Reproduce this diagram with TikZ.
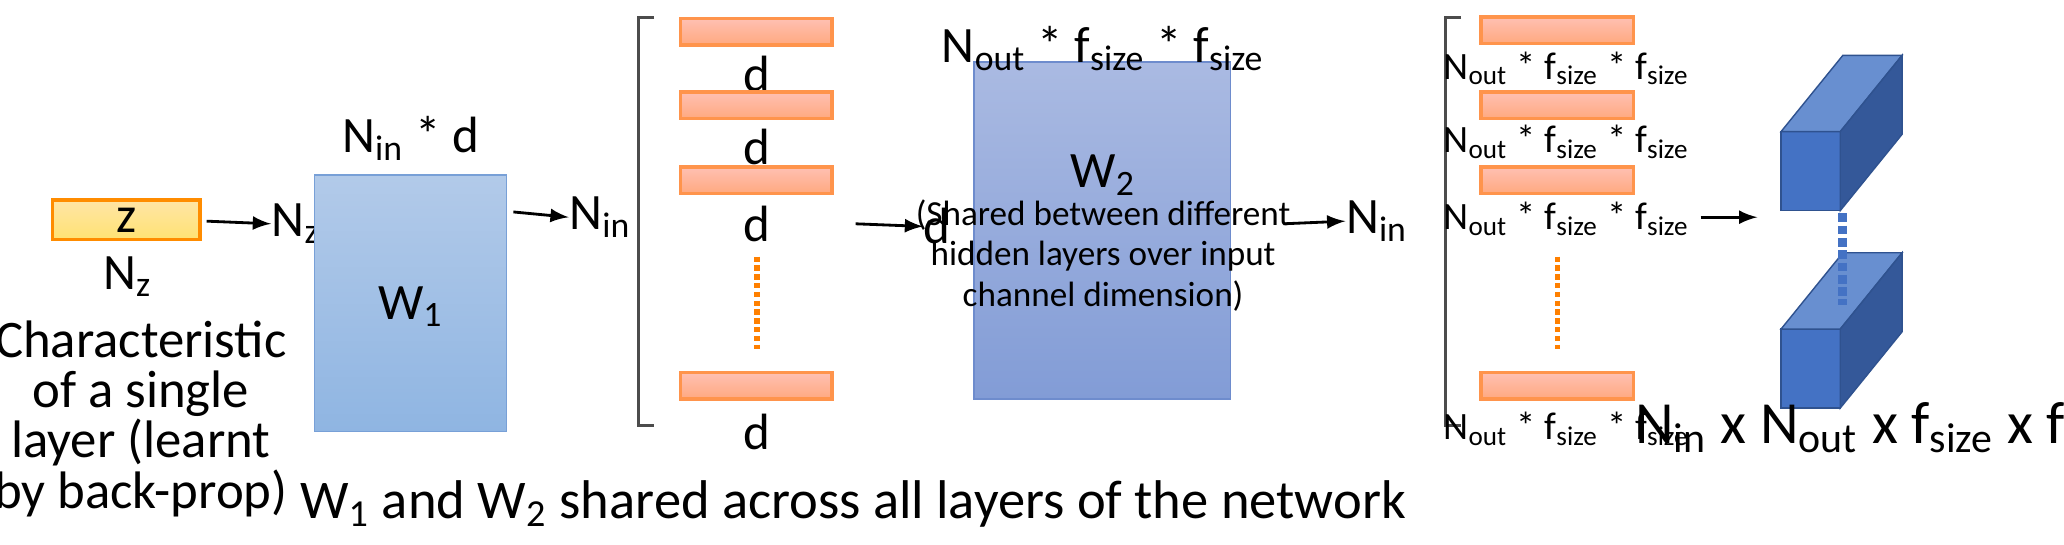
\documentclass[tikz,border=0pt]{standalone}
\usepackage{fontspec}
\setmainfont{Carlito}
\definecolor{cfront}{RGB}{68,114,196}
\definecolor{ctop}{RGB}{104,143,208}
\definecolor{cside}{RGB}{52,88,153}
\definecolor{cedge}{RGB}{47,82,143}
\definecolor{wonet}{RGB}{178,202,233}
\definecolor{woneb}{RGB}{143,181,226}
\definecolor{wonee}{RGB}{120,160,215}
\definecolor{wtwot}{RGB}{170,186,226}
\definecolor{wtwob}{RGB}{130,156,214}
\definecolor{wtwoe}{RGB}{110,140,205}
\begin{document}
\begin{tikzpicture}[x=0.01316cm,y=-0.01316cm,
  txt/.style={inner sep=0pt,font=\fontsize{14.5pt}{17pt}\selectfont},
  sm/.style={inner sep=0pt,font=\fontsize{11pt}{13pt}\selectfont},
  arr/.style={-latex,thick},
  bar/.style={draw=orange!80!red!70,line width=1pt,top color=orange!35!red!30!white,bottom color=orange!65!red!50!white},
  brk/.style={draw=black!70,line width=0.8pt}]
\useasboundingbox (0,0) rectangle (1568,414);
% z
\filldraw[draw=orange!90!yellow,line width=1pt,top color=yellow!40!orange!35,bottom color=yellow!60!orange!55] (40,152) rectangle (152,182);
\node[txt] (z) at (96,167) {z};
\node[txt] (nz0) at (97,210) {N\textsubscript{z}};
\node[txt,align=center,font=\fontsize{15pt}{14.3pt}\selectfont] (char) at (107,318) {Characteristic\\of a single\\layer (learnt\\by back-prop)};
\node[txt] (nz) at (225,170) {N\textsubscript{z}};
\draw[arr] (157,168) -- (nz.west);
% W1
\filldraw[draw=wonee,top color=wonet,bottom color=woneb] (239,133) rectangle (385,328);
\node[txt] (w1) at (312,233) {W\textsubscript{1}};
\node[txt] (w1t) at (312,105) {N\textsubscript{in} * d};
\node[txt] (nin1) at (456,165) {N\textsubscript{in}};
\draw[arr] (390,161) -- (nin1.west);
% bracket 1
\draw[brk] (497,13) -- (485,13) -- (485,323) -- (497,323);
\foreach \y/\l in {14/56,70/112,127/170,283/328}{
  \filldraw[bar] (517,\y) rectangle (632,\y+20);
  \node[txt] at (575,\l) {d};
}
\draw[orange,densely dotted,line width=1.5pt] (575,195) -- (575,265);
\node[txt] (d) at (712,172) {d};
\draw[arr] (650,170) -- (d.west);
% W2
\filldraw[draw=wtwoe,top color=wtwot,bottom color=wtwob] (740,47) rectangle (935,303);
\node[txt] (w2t) at (838,37) {N\textsubscript{out} * f\textsubscript{size} * f\textsubscript{size}};
\node[txt] (w2) at (838,133) {W\textsubscript{2}};
\node[sm,align=center,font=\fontsize{10pt}{11.5pt}\selectfont] (w2s) at (838,194) {(Shared between different\\hidden layers over input\\channel dimension)};
\node[txt] (nin2) at (1046,168) {N\textsubscript{in}};
\draw[arr] (975,170) -- (nin2.west);
% bracket 2
\draw[brk] (1110,13) -- (1098,13) -- (1098,323) -- (1110,323);
\foreach \y/\l in {13/52,70/108,127/166,283/326}{
  \filldraw[bar] (1125,\y) rectangle (1241,\y+20);
  \node[sm] at (1190,\l) {N\textsubscript{out} * f\textsubscript{size} * f\textsubscript{size}};
}
\draw[orange,densely dotted,line width=1.5pt] (1183,195) -- (1183,265);
\coordinate (cubeL) at (1335,165);
\draw[arr] (1292,165) -- (cubeL);
% cubes
\foreach \t in {100,250}{
  \filldraw[draw=cedge,fill=cfront] (1353,\t) rectangle (1398,\t+60);
  \filldraw[draw=cedge,fill=ctop] (1353,\t) -- (1398,\t) -- (1445,\t-58) -- (1400,\t-58) -- cycle;
  \filldraw[draw=cedge,fill=cside] (1398,\t) -- (1445,\t-58) -- (1445,\t+2) -- (1398,\t+60) -- cycle;
}
\draw[cfront,densely dotted,line width=2.5pt] (1400,162) -- (1400,232);
\node[txt,font=\fontsize{17pt}{19pt}\selectfont] (dims) at (1430,325) {N\textsubscript{in} x N\textsubscript{out} x f\textsubscript{size} x f\textsubscript{size}};
\node[txt,font=\fontsize{15.5pt}{18pt}\selectfont] (cap) at (648,383) {W\textsubscript{1} and W\textsubscript{2} shared across all layers of the network};
\end{tikzpicture}
\end{document}
